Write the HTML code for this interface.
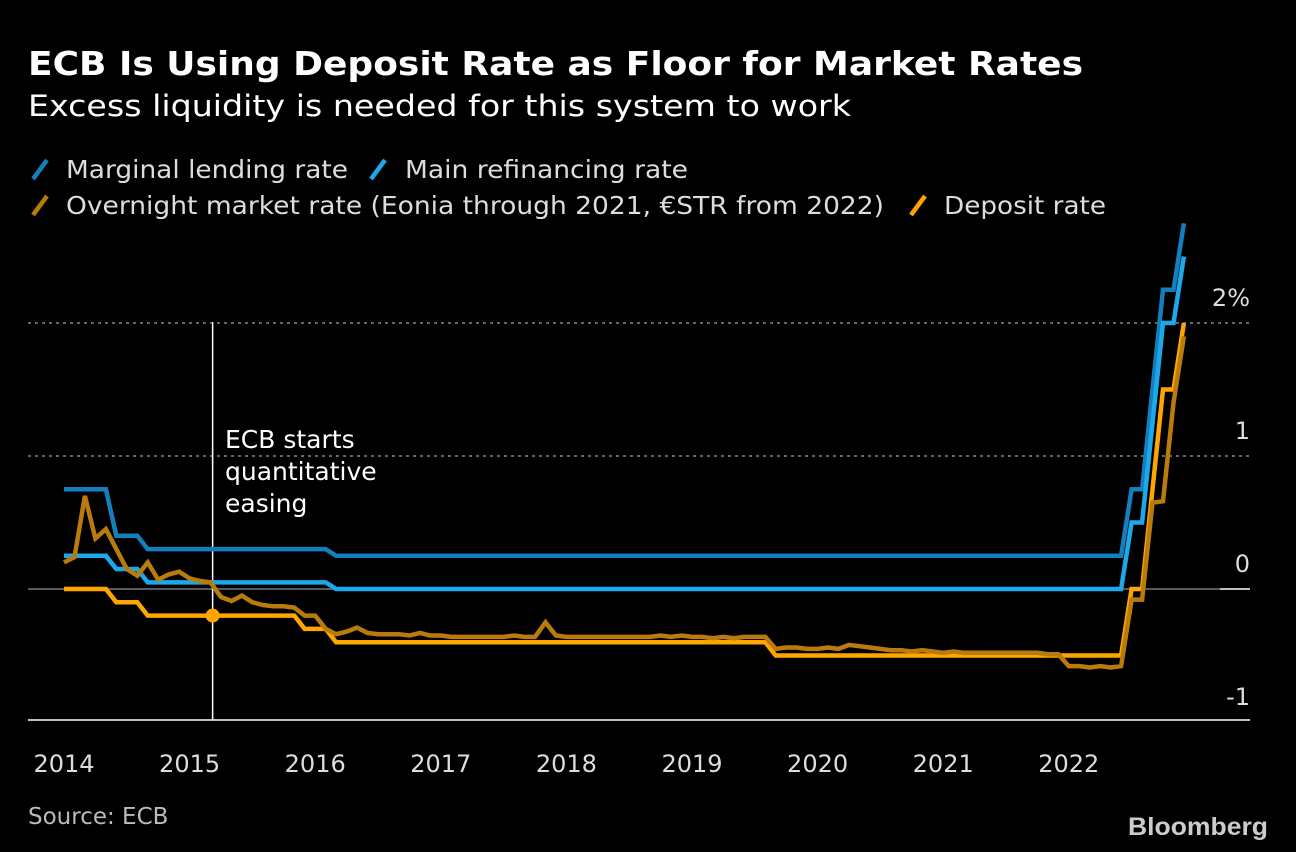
<!DOCTYPE html>
<html><head><meta charset="utf-8"><style>
html,body{margin:0;padding:0;background:#000;}
svg{display:block;font-family:"DejaVu Sans","Liberation Sans",sans-serif;}
</style></head><body>
<svg id="chart" width="1296" height="852" viewBox="0 0 1296 852" xmlns="http://www.w3.org/2000/svg">
<rect width="1296" height="852" fill="#000"/>
<text x="28" y="75" fill="#fff" font-weight="bold" font-size="33" textLength="1055" lengthAdjust="spacingAndGlyphs">ECB Is Using Deposit Rate as Floor for Market Rates</text>
<text x="28" y="116" fill="#fff" font-size="29" textLength="823" lengthAdjust="spacingAndGlyphs">Excess liquidity is needed for this system to work</text>
<g>
 <g><line x1="33" y1="179" x2="47" y2="160" stroke="#1380bd" stroke-width="4.5"/><text x="66" y="178" fill="#ddd" font-size="25" textLength="282" lengthAdjust="spacingAndGlyphs">Marginal lending rate</text></g>
 <g><line x1="371" y1="179" x2="385" y2="160" stroke="#1ba9eb" stroke-width="4.5"/><text x="405" y="178" fill="#ddd" font-size="25" textLength="283" lengthAdjust="spacingAndGlyphs">Main refinancing rate</text></g>
 <g><line x1="33" y1="215" x2="47" y2="196" stroke="#b97c0c" stroke-width="4.5"/><text x="66" y="214" fill="#ddd" font-size="25" textLength="818" lengthAdjust="spacingAndGlyphs">Overnight market rate (Eonia through 2021, €STR from 2022)</text></g>
 <g><line x1="911" y1="215" x2="925" y2="196" stroke="#ffa500" stroke-width="4.5"/><text x="944" y="214" fill="#ddd" font-size="25" textLength="162" lengthAdjust="spacingAndGlyphs">Deposit rate</text></g>
</g>
<g id="plot"></g>
<text x="28" y="824" fill="#bbb" font-size="23">Source: ECB</text>
<text x="1268" y="835" fill="#ccc" font-size="25" font-weight="bold" text-anchor="end" textLength="140" lengthAdjust="spacingAndGlyphs" font-family="Liberation Sans, sans-serif">Bloomberg</text>
</svg>
<script>
const yearLabels = ["2014","2015","2016","2017","2018","2019","2020","2021","2022"];
const yTicks = [-1, 0, 1, 2];
const yTickLabels = ["-1","0","1","2%"];
const marginal = [0.75,0.75,0.75,0.75,0.75,0.4,0.4,0.4,0.3,0.3,0.3,0.3,
0.3,0.3,0.3,0.3,0.3,0.3,0.3,0.3,0.3,0.3,0.3,0.3,
0.3,0.3,0.25,0.25,0.25,0.25,0.25,0.25,0.25,0.25,0.25,0.25,
0.25,0.25,0.25,0.25,0.25,0.25,0.25,0.25,0.25,0.25,0.25,0.25,
0.25,0.25,0.25,0.25,0.25,0.25,0.25,0.25,0.25,0.25,0.25,0.25,
0.25,0.25,0.25,0.25,0.25,0.25,0.25,0.25,0.25,0.25,0.25,0.25,
0.25,0.25,0.25,0.25,0.25,0.25,0.25,0.25,0.25,0.25,0.25,0.25,
0.25,0.25,0.25,0.25,0.25,0.25,0.25,0.25,0.25,0.25,0.25,0.25,
0.25,0.25,0.25,0.25,0.25,0.25,0.75,0.75,1.5,2.25,2.25,2.75];
const mainRate = [0.25,0.25,0.25,0.25,0.25,0.15,0.15,0.15,0.05,0.05,0.05,0.05,
0.05,0.05,0.05,0.05,0.05,0.05,0.05,0.05,0.05,0.05,0.05,0.05,
0.05,0.05,0,0,0,0,0,0,0,0,0,0,
0,0,0,0,0,0,0,0,0,0,0,0,
0,0,0,0,0,0,0,0,0,0,0,0,
0,0,0,0,0,0,0,0,0,0,0,0,
0,0,0,0,0,0,0,0,0,0,0,0,
0,0,0,0,0,0,0,0,0,0,0,0,
0,0,0,0,0,0,0.5,0.5,1.25,2.0,2.0,2.5];
const overnight = [0.20,0.24,0.70,0.38,0.45,0.30,0.15,0.10,0.20,0.07,0.11,0.13,
0.08,0.06,0.05,-0.06,-0.09,-0.05,-0.10,-0.12,-0.13,-0.13,-0.14,-0.20,
-0.20,-0.30,-0.34,-0.32,-0.29,-0.33,-0.34,-0.34,-0.34,-0.35,-0.33,-0.35,
-0.35,-0.36,-0.36,-0.36,-0.36,-0.36,-0.36,-0.35,-0.36,-0.36,-0.25,-0.35,
-0.36,-0.36,-0.36,-0.36,-0.36,-0.36,-0.36,-0.36,-0.36,-0.35,-0.36,-0.35,
-0.36,-0.36,-0.37,-0.36,-0.37,-0.36,-0.36,-0.36,-0.45,-0.44,-0.44,-0.45,
-0.45,-0.44,-0.45,-0.42,-0.43,-0.44,-0.45,-0.46,-0.46,-0.47,-0.46,-0.47,
-0.48,-0.47,-0.48,-0.48,-0.48,-0.48,-0.48,-0.48,-0.48,-0.48,-0.49,-0.49,
-0.58,-0.58,-0.59,-0.58,-0.59,-0.58,-0.08,-0.08,0.65,0.66,1.40,1.90];
const deposit = [0,0,0,0,0,-0.1,-0.1,-0.1,-0.2,-0.2,-0.2,-0.2,
-0.2,-0.2,-0.2,-0.2,-0.2,-0.2,-0.2,-0.2,-0.2,-0.2,-0.2,-0.3,
-0.3,-0.3,-0.4,-0.4,-0.4,-0.4,-0.4,-0.4,-0.4,-0.4,-0.4,-0.4,
-0.4,-0.4,-0.4,-0.4,-0.4,-0.4,-0.4,-0.4,-0.4,-0.4,-0.4,-0.4,
-0.4,-0.4,-0.4,-0.4,-0.4,-0.4,-0.4,-0.4,-0.4,-0.4,-0.4,-0.4,
-0.4,-0.4,-0.4,-0.4,-0.4,-0.4,-0.4,-0.4,-0.5,-0.5,-0.5,-0.5,
-0.5,-0.5,-0.5,-0.5,-0.5,-0.5,-0.5,-0.5,-0.5,-0.5,-0.5,-0.5,
-0.5,-0.5,-0.5,-0.5,-0.5,-0.5,-0.5,-0.5,-0.5,-0.5,-0.5,-0.5,
-0.5,-0.5,-0.5,-0.5,-0.5,-0.5,0,0,0.75,1.5,1.5,2.0];
const qeMonthIndex = 14.2;

const NS = "http://www.w3.org/2000/svg";
const plot = document.getElementById("plot");
const X0 = 64, PX_PER_YEAR = 125.6, Y0 = 589, PX_PER_UNIT = 133;
function xm(i){ return X0 + i / 12 * PX_PER_YEAR; }
function xy(year){ return X0 + (year - 2014) * PX_PER_YEAR; }
function ys(v){ return Y0 - v * PX_PER_UNIT; }
function mk(tag, attrs){ const e = document.createElementNS(NS, tag); for (const k in attrs) e.setAttribute(k, attrs[k]); plot.appendChild(e); return e; }

yTicks.forEach((t, k) => {
  const y = ys(t);
  if (t > 0) {
    const g = mk("line", {x1: 28, x2: 1250, y1: y, y2: y, stroke: "#888", "stroke-width": 1.5, "stroke-dasharray": "3,4"});
    
    
  } else if (t === 0) {
    const z = mk("line", {x1: 28, x2: 1220, y1: y, y2: y, stroke: "#777", "stroke-width": 1.5});
    
    
    const z2 = mk("line", {x1: 1220, x2: 1250, y1: y, y2: y, stroke: "#fff", "stroke-width": 1.5});
    
    
  }
  const lb = mk("text", {x: 1250, y: y - 17, fill: "#ddd", "font-size": 24, "text-anchor": "end"});
  lb.textContent = yTickLabels[k];
  
  
});

const axis = mk("line", {x1: 28, x2: 1250, y1: 720, y2: 720, stroke: "#fff", "stroke-width": 1.5});


yearLabels.forEach((yl) => {
  const t = mk("text", {x: xy(+yl), y: 772, fill: "#ddd", "font-size": 24, "text-anchor": "middle"});
  t.textContent = yl;
  
  
});

// annotation
const qx = xm(qeMonthIndex);
const ql = mk("line", {x1: qx, x2: qx, y1: 322, y2: 720, stroke: "#fff", "stroke-width": 1.5});


["ECB starts", "quantitative", "easing"].forEach((s, k) => {
  const t = mk("text", {x: 225, y: 448 + k * 32, fill: "#fff", "font-size": 25});
  t.textContent = s;
  
  
});

function series(arr, color, name){
  const d = arr.map((v, i) => (i ? "L" : "M") + xm(i).toFixed(1) + "," + ys(v).toFixed(1)).join("");
  const p = mk("path", {d: d, fill: "none", stroke: color, "stroke-width": 4.5, "stroke-linejoin": "miter", "stroke-linecap": "butt"});
  
  
}
series(marginal, "#1380bd", "marginal-lending-line");
series(mainRate, "#1ba9eb", "main-refinancing-line");
series(deposit, "#ffa500", "deposit-rate-line");
series(overnight, "#b97c0c", "overnight-rate-line");

const dot = mk("circle", {cx: qx, cy: ys(deposit[Math.round(qeMonthIndex)]), r: 7, fill: "#ffa500"});


</script>
</body></html>
